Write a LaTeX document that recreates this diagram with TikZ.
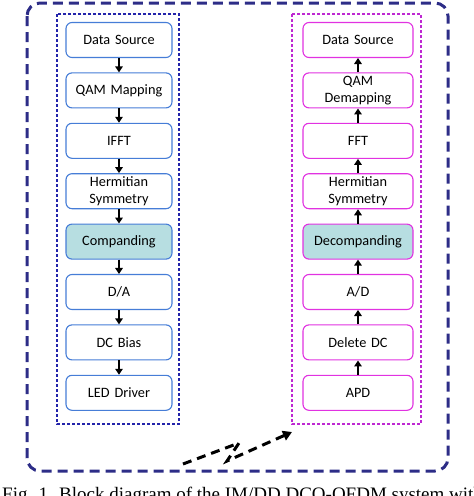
\documentclass[tikz,border=0pt]{standalone}
\usepackage{fontspec}
\setmainfont{Carlito}
\newfontfamily\capfont{Liberation Serif}
\usetikzlibrary{arrows.meta}
\definecolor{outerc}{RGB}{45,45,135}
\definecolor{txbox}{RGB}{35,35,170}
\definecolor{rxbox}{RGB}{190,40,210}
\definecolor{txnode}{RGB}{70,125,215}
\definecolor{rxnode}{RGB}{225,50,225}
\definecolor{teal}{RGB}{183,222,225}
\tikzset{
  blk/.style={rectangle, rounded corners=6pt, line width=1.1pt, fill=white,
    minimum height=35pt, align=center, inner sep=1pt,
    font=\fontsize{14.3}{16.8}\selectfont},
  txblk/.style={blk, draw=txnode, minimum width=106pt, text width=100pt},
  rxblk/.style={blk, draw=rxnode, minimum width=110pt, text width=104pt},
  hl/.style={fill=teal},
  flow/.style={line width=1.8pt, -{Triangle[length=6pt,width=7.5pt]}},
  wireless/.style={line width=3pt, dash pattern=on 9pt off 6pt,
    -{Triangle[length=9pt,width=10pt]}},
}
\begin{document}
\begin{tikzpicture}[x=1pt,y=-1pt]
\useasboundingbox (0,0) rectangle (474,496);
% outer frame
\draw[outerc, line width=3pt, rounded corners=13pt, dash pattern=on 10pt off 6pt]
  (27,3) rectangle (448,471);
% inner frames
\draw[txbox, line width=1.5pt, dash pattern=on 3pt off 2pt] (57,14) rectangle (179,424);
\draw[rxbox, line width=1.5pt, dash pattern=on 3pt off 2pt] (292,14) rectangle (421,424);
% transmitter
\node[txblk] (t1) at (119,40) {Data Source};
\node[txblk] (t2) at (119,90.4) {QAM Mapping};
\node[txblk] (t3) at (119,140.8) {IFFT};
\node[txblk] (t4) at (119,191.2) {Hermitian\\Symmetry};
\node[txblk,hl] (t5) at (119,241.6) {Companding};
\node[txblk] (t6) at (119,292) {D/A};
\node[txblk] (t7) at (119,342.4) {DC Bias};
\node[txblk] (t8) at (119,392.8) {LED Driver};
\foreach \a/\b in {t1/t2,t2/t3,t3/t4,t4/t5,t5/t6,t6/t7,t7/t8}
  \draw[flow] (\a.south) -- (\b.north);
% receiver
\node[rxblk] (r1) at (358,40) {Data Source};
\node[rxblk] (r2) at (358,90.4) {QAM\\Demapping};
\node[rxblk] (r3) at (358,140.8) {FFT};
\node[rxblk] (r4) at (358,191.2) {Hermitian\\Symmetry};
\node[rxblk,hl] (r5) at (358,241.6) {Decompanding};
\node[rxblk] (r6) at (358,292) {A/D};
\node[rxblk] (r7) at (358,342.4) {Delete DC};
\node[rxblk] (r8) at (358,392.8) {APD};
\foreach \a/\b in {r2/r1,r3/r2,r4/r3,r5/r4,r6/r5,r7/r6,r8/r7}
  \draw[flow] (\a.north) -- (\b.south);
% wireless link
\coordinate (w0) at (183,464);
\coordinate (w1) at (239,443);
\coordinate (w2) at (227,461);
\coordinate (w3) at (292,432);
\draw[wireless] (w0) -- (w1) -- (w2) -- (w3);
% caption (cut by the page edge, as in the reference)
\node[anchor=base west, inner sep=0pt, font=\capfont\fontsize{19}{21}\selectfont] (cap) at (2,500.5)
  {Fig. 1. Block diagram of the IM/DD DCO-OFDM system with};
\end{tikzpicture}
\end{document}
